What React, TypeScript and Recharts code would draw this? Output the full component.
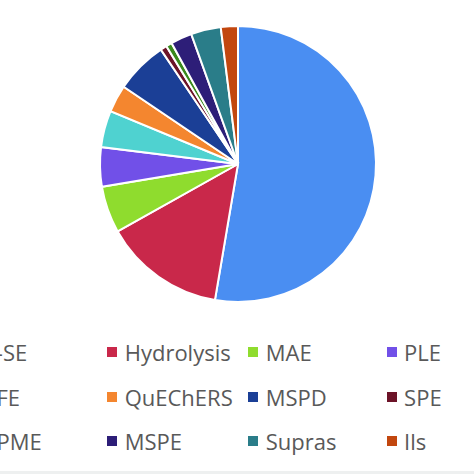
import React from 'react';
import { PieChart, Pie, Cell, Legend } from 'recharts';

const methods = ['L-SE', 'Hydrolysis', 'MAE', 'PLE', 'SFE', 'QuEChERS', 'MSPD', 'SPE', 'SPME', 'MSPE', 'Supras', 'Ils'];
const shares = [52.7, 14.2, 5.5, 4.6, 4.3, 3.2, 6.1, 0.75, 0.7, 2.5, 3.5, 2.0];
const colors = ['#4a8ef2', '#c9284a', '#8fdc2e', '#7150e8', '#4fd2d0', '#f4862f', '#1b3f96', '#6c1328', '#3a8a1c', '#2d1e78', '#2a7d89', '#c2470f'];

const data = methods.map((name, i) => ({ name, value: shares[i] }));

const colX = [-33, 107.3, 248.3, 386.7];
const rowY = [21.7, 66.7, 111];

const renderLegend = () => {
  return (
    <div style={{ position: 'relative', width: 474, height: 130 }}>
      {methods.map((name, i) => {
        const col = i % 4;
        const row = Math.floor(i / 4);
        return (
          <div
            key={name}
            style={{
              position: 'absolute',
              left: colX[col],
              top: rowY[row] - 15,
              height: 30,
              display: 'flex',
              alignItems: 'center',
              whiteSpace: 'nowrap',
            }}
          >
            <span style={{ display: 'inline-block', width: 10, height: 10, background: colors[i], marginRight: 7.4 }} />
            <span style={{ fontFamily: '"Open Sans", sans-serif', fontSize: 22, color: '#595959', lineHeight: '30px' }}>
              {name}
            </span>
          </div>
        );
      })}
    </div>
  );
};

export default function App() {
  return (
    <div style={{ position: 'absolute', left: 0, top: 0, width: 474, height: 474, background: '#fff', overflow: 'hidden' }}>
      <PieChart width={474} height={474} margin={{ top: 0, right: 0, bottom: 0, left: 0 }}>
        <Pie
          data={data}
          dataKey="value"
          nameKey="name"
          cx={238}
          cy={164}
          outerRadius={138}
          innerRadius={0}
          startAngle={90}
          endAngle={-270}
          stroke="#ffffff"
          strokeWidth={2}
          isAnimationActive={false}
        >
          {data.map((d, i) => (
            <Cell key={d.name} fill={colors[i]} />
          ))}
        </Pie>
        <Legend
          content={renderLegend}
          wrapperStyle={{ left: 0, top: 330, bottom: 'auto', width: 474, height: 130 }}
        />
      </PieChart>
      <div style={{ position: 'absolute', left: 0, top: 471, width: 474, height: 3, background: '#eef0f0' }} />
    </div>
  );
}
